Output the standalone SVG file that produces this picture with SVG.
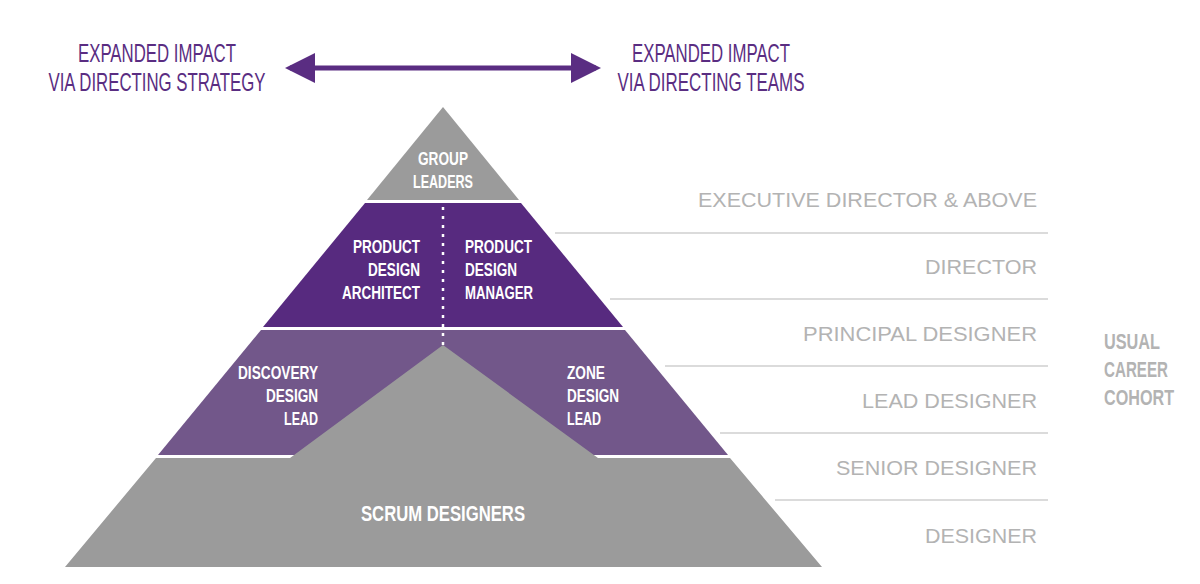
<svg xmlns="http://www.w3.org/2000/svg" width="1200" height="584" viewBox="0 0 1200 584">
<style>
.c{font-family:"Liberation Sans",sans-serif}
.p{fill:#5a2d82;font-size:25px}
.w{fill:#fff;font-size:19px;font-weight:bold}
.r{font-family:"Liberation Sans",sans-serif;fill:#b3b3b3;font-size:21px;text-anchor:end}
.k{fill:#b3b3b3;font-size:22px;font-weight:bold}
.ln{stroke:#cfcfcf;stroke-width:1.5}
</style>
<defs>
<marker id="ah" markerWidth="6" markerHeight="6" refX="5" refY="3" orient="auto-start-reverse" markerUnits="strokeWidth"><path d="M0,0 L6,3 L0,6 Z" fill="#5a2d82"/></marker>
</defs>
<rect width="1200" height="584" fill="#fff"/>
<g id="arrows">
<line x1="290" y1="68" x2="596" y2="68" stroke="#5a2d82" stroke-width="5" marker-start="url(#ah)" marker-end="url(#ah)"/>
<g class="ln">
<line x1="555" y1="233" x2="1048" y2="233"/>
<line x1="610" y1="299" x2="1048" y2="299"/>
<line x1="665" y1="366" x2="1048" y2="366"/>
<line x1="720" y1="433" x2="1048" y2="433"/>
<line x1="775" y1="500" x2="1048" y2="500"/>
</g>
</g>
<g id="top-labels" class="c p" text-anchor="middle">
<text x="157" y="62" textLength="158" lengthAdjust="spacingAndGlyphs">EXPANDED IMPACT</text>
<text x="157" y="91" textLength="217" lengthAdjust="spacingAndGlyphs">VIA DIRECTING STRATEGY</text>
<text x="711" y="62" textLength="158" lengthAdjust="spacingAndGlyphs">EXPANDED IMPACT</text>
<text x="711" y="91" textLength="187" lengthAdjust="spacingAndGlyphs">VIA DIRECTING TEAMS</text>
</g>
<g id="pyramid">
<polygon id="group-leaders" points="443,107 519,200 367,200" fill="#9b9b9b"/>
<polygon id="purple-band" points="365,203 521,203 623,327 263,327" fill="#572a7f"/>
<polygon id="light-band" points="261,330 625,330 728,455 158,455" fill="#72578a"/>
<polygon id="scrum" points="156,458 290,458 443,345 598,458 730,458 822,567 65,567" fill="#9b9b9b"/>
<line x1="443" y1="207" x2="443" y2="345" stroke="#fff" stroke-width="2.5" stroke-dasharray="3,6"/>
</g>
<g class="c w" text-anchor="middle">
<text x="443" y="165" textLength="50" lengthAdjust="spacingAndGlyphs">GROUP</text>
<text x="443" y="188" textLength="60" lengthAdjust="spacingAndGlyphs">LEADERS</text>
<text x="443" y="521" font-size="22" textLength="164" lengthAdjust="spacingAndGlyphs">SCRUM DESIGNERS</text>
</g>
<g class="c w" text-anchor="end">
<text x="420" y="253" textLength="67" lengthAdjust="spacingAndGlyphs">PRODUCT</text>
<text x="420" y="276" textLength="52" lengthAdjust="spacingAndGlyphs">DESIGN</text>
<text x="420" y="299" textLength="78" lengthAdjust="spacingAndGlyphs">ARCHITECT</text>
<text x="318" y="379" textLength="80" lengthAdjust="spacingAndGlyphs">DISCOVERY</text>
<text x="318" y="402" textLength="52" lengthAdjust="spacingAndGlyphs">DESIGN</text>
<text x="318" y="425" textLength="34" lengthAdjust="spacingAndGlyphs">LEAD</text>
</g>
<g class="c w" text-anchor="start">
<text x="465" y="253" textLength="67" lengthAdjust="spacingAndGlyphs">PRODUCT</text>
<text x="465" y="276" textLength="52" lengthAdjust="spacingAndGlyphs">DESIGN</text>
<text x="465" y="299" textLength="68" lengthAdjust="spacingAndGlyphs">MANAGER</text>
<text x="567" y="379" textLength="38" lengthAdjust="spacingAndGlyphs">ZONE</text>
<text x="567" y="402" textLength="52" lengthAdjust="spacingAndGlyphs">DESIGN</text>
<text x="567" y="425" textLength="34" lengthAdjust="spacingAndGlyphs">LEAD</text>
</g>
<g id="levels" class="r">
<text x="1037" y="207" textLength="339" lengthAdjust="spacingAndGlyphs">EXECUTIVE DIRECTOR &amp; ABOVE</text>
<text x="1037" y="274" textLength="112" lengthAdjust="spacingAndGlyphs">DIRECTOR</text>
<text x="1037" y="341" textLength="234" lengthAdjust="spacingAndGlyphs">PRINCIPAL DESIGNER</text>
<text x="1037" y="408" textLength="175" lengthAdjust="spacingAndGlyphs">LEAD DESIGNER</text>
<text x="1037" y="475" textLength="201" lengthAdjust="spacingAndGlyphs">SENIOR DESIGNER</text>
<text x="1037" y="543" textLength="112" lengthAdjust="spacingAndGlyphs">DESIGNER</text>
</g>
<g id="cohort" class="c k">
<text x="1104" y="349" textLength="56" lengthAdjust="spacingAndGlyphs">USUAL</text>
<text x="1104" y="377" textLength="64" lengthAdjust="spacingAndGlyphs">CAREER</text>
<text x="1104" y="405" textLength="70" lengthAdjust="spacingAndGlyphs">COHORT</text>
</g>
</svg>
